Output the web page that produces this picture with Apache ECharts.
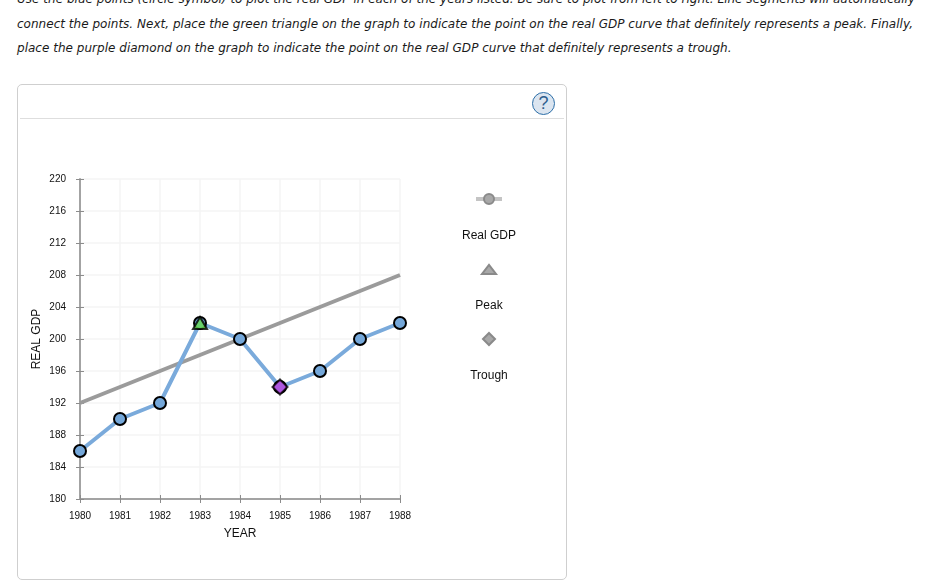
<!DOCTYPE html>
<html>
<head>
<meta charset="utf-8">
<script src="https://cdn.jsdelivr.net/npm/echarts@6/dist/echarts.min.js"></script>
<style>
html, body { margin: 0; padding: 0; background: #fff; overflow: hidden; }
#page { position: relative; width: 931px; height: 581px; overflow: hidden; }
.prompt { position: absolute; left: 17px; white-space: nowrap; letter-spacing: 0.02px; font: italic 12px "DejaVu Sans", sans-serif; color: #1a1a1a; }
#panel { position: absolute; left: 17px; top: 84px; width: 548px; height: 494px; border: 1px solid #cfcfcf; border-radius: 5px; box-sizing: content-box; }
#rule { position: absolute; left: 20px; top: 118px; width: 544px; height: 1px; background: #dedede; }
#help { position: absolute; left: 532px; top: 92px; width: 21px; height: 21px; border: 1.5px solid #2d6fa8; border-radius: 50%; background: #dbe5f0; color: #2d5f8f; text-align: center; font: 18px/21px "Liberation Sans", sans-serif; }
#chart { position: absolute; left: 0; top: 0; width: 931px; height: 581px; }
</style>
</head>
<body>
<div id="page">
    <div class="prompt" style="top:-8px">Use the blue points (circle symbol) to plot the real GDP in each of the years listed. Be sure to plot from left to right. Line segments will automatically</div>
    <div class="prompt" style="top:17px">connect the points. Next, place the green triangle on the graph to indicate the point on the real GDP curve that definitely represents a peak. Finally,</div>
    <div class="prompt" style="top:41px">place the purple diamond on the graph to indicate the point on the real GDP curve that definitely represents a trough.</div>
    <div id="panel"></div>
    <div id="rule"></div>
    <div id="help">?</div>
    <div id="chart"></div>
</div>
<script>
var years = [1980, 1981, 1982, 1983, 1984, 1985, 1986, 1987, 1988];
var realGdp = [186, 190, 192, 202, 200, 194, 196, 200, 202];
var trendYears = [1980, 1988];
var trendGdp = [192, 208];
var peakYear = [1983];
var peakGdp = [202];
var troughYear = [1985];
var troughGdp = [194];
var legendNames = ['Real GDP', 'Peak', 'Trough'];

var axisGrey = '#a3a3a3';
var tickGrey = '#8c8c8c';
var gridGrey = '#f4f4f4';
var labelFont = '"Liberation Sans", Arial, sans-serif';

function zip(xs, ys) {
    return xs.map(function(x, i) { return [x, ys[i]]; });
}

// legend keys sit to the right of the plot, with the label under each key
function legendKeys() {
    var grey = { fill: '#a8a8a8', stroke: '#8a8a8a', lineWidth: 2 };
    return [
        { type: 'line', shape: { x1: 476, y1: 199, x2: 502, y2: 199 }, style: { stroke: '#c4c4c4', lineWidth: 4 } },
        { type: 'circle', shape: { cx: 489, cy: 199, r: 5 }, style: grey },
        { type: 'text', x: 489, y: 236, style: { text: legendNames[0], align: 'center', verticalAlign: 'middle', font: '12px ' + labelFont, fill: '#111' } },
        { type: 'polygon', shape: { points: [[482, 274], [496, 274], [489, 265]] }, style: grey },
        { type: 'text', x: 489, y: 306, style: { text: legendNames[1], align: 'center', verticalAlign: 'middle', font: '12px ' + labelFont, fill: '#111' } },
        { type: 'polygon', shape: { points: [[489, 333], [495, 339], [489, 345], [483, 339]] }, style: grey },
        { type: 'text', x: 489, y: 376, style: { text: legendNames[2], align: 'center', verticalAlign: 'middle', font: '12px ' + labelFont, fill: '#111' } }
    ];
}

var myChart = echarts.init(document.getElementById('chart'), null, { renderer: 'canvas' });
var option = {
    backgroundColor: 'transparent',
    animation: false,
    grid: { left: 80, top: 179, width: 320, height: 320 },
    graphic: legendKeys(),
    xAxis: [{
        type: 'value',
        min: 1980,
        max: 1988,
        interval: 1,
        name: 'YEAR',
        nameLocation: 'middle',
        nameGap: 29,
        nameTextStyle: { fontFamily: labelFont, fontSize: 12, color: '#111' },
        axisLine: { onZero: false, lineStyle: { color: axisGrey, width: 2 } },
        axisTick: { length: 4, lineStyle: { color: tickGrey, width: 1 } },
        axisLabel: {
            margin: 12,
            fontFamily: labelFont,
            fontSize: 10,
            color: '#111',
            hideOverlap: false,
            showMinLabel: true,
            showMaxLabel: true,
            formatter: function(v) { return String(v); }
        },
        splitLine: { show: true, lineStyle: { color: gridGrey, width: 1.5 } }
    }, {
        // second axis only draws the inner half of the ticks
        type: 'value',
        position: 'bottom',
        min: 1980,
        max: 1988,
        interval: 1,
        axisLine: { show: false, onZero: false },
        axisTick: { show: true, inside: true, length: 4, lineStyle: { color: tickGrey, width: 1 } },
        axisLabel: { show: false },
        splitLine: { show: false }
    }],
    yAxis: [{
        type: 'value',
        min: 180,
        max: 220,
        interval: 4,
        name: 'REAL GDP',
        nameLocation: 'middle',
        nameGap: 37,
        nameTextStyle: { fontFamily: labelFont, fontSize: 12, color: '#111' },
        axisLine: { show: true, onZero: false, lineStyle: { color: axisGrey, width: 2 } },
        axisTick: { show: true, length: 4, lineStyle: { color: tickGrey, width: 1 } },
        axisLabel: { margin: 14, padding: [2, 0, 0, 0], fontFamily: labelFont, fontSize: 10, color: '#111', showMinLabel: true, showMaxLabel: true },
        splitLine: { show: true, lineStyle: { color: gridGrey, width: 1.5 } }
    }, {
        type: 'value',
        position: 'left',
        min: 180,
        max: 220,
        interval: 4,
        axisLine: { show: false, onZero: false },
        axisTick: { show: true, inside: true, length: 4, lineStyle: { color: tickGrey, width: 1 } },
        axisLabel: { show: false },
        splitLine: { show: false }
    }],
    series: [{
        name: 'Trend',
        type: 'line',
        data: zip(trendYears, trendGdp),
        showSymbol: false,
        silent: true,
        z: 2,
        lineStyle: { color: '#9b9b9b', width: 4 }
    }, {
        name: legendNames[0],
        type: 'line',
        data: zip(years, realGdp),
        symbol: 'circle',
        symbolSize: 12,
        showAllSymbol: true,
        clip: false,
        z: 3,
        lineStyle: { color: '#7aaadb', width: 4 },
        itemStyle: { color: '#74a7d9', borderColor: '#000', borderWidth: 2 }
    }, {
        name: legendNames[1],
        type: 'scatter',
        data: zip(peakYear, peakGdp),
        symbol: 'triangle',
        symbolSize: [14, 12],
        clip: false,
        z: 4,
        itemStyle: { color: '#66dc50', borderColor: '#000', borderWidth: 2 }
    }, {
        name: legendNames[2],
        type: 'scatter',
        data: zip(troughYear, troughGdp),
        symbol: 'diamond',
        symbolSize: [15, 15],
        clip: false,
        z: 4,
        itemStyle: { color: '#bb44e0', borderColor: '#000', borderWidth: 2 }
    }]
};
myChart.setOption(option);
</script>
</body>
</html>
